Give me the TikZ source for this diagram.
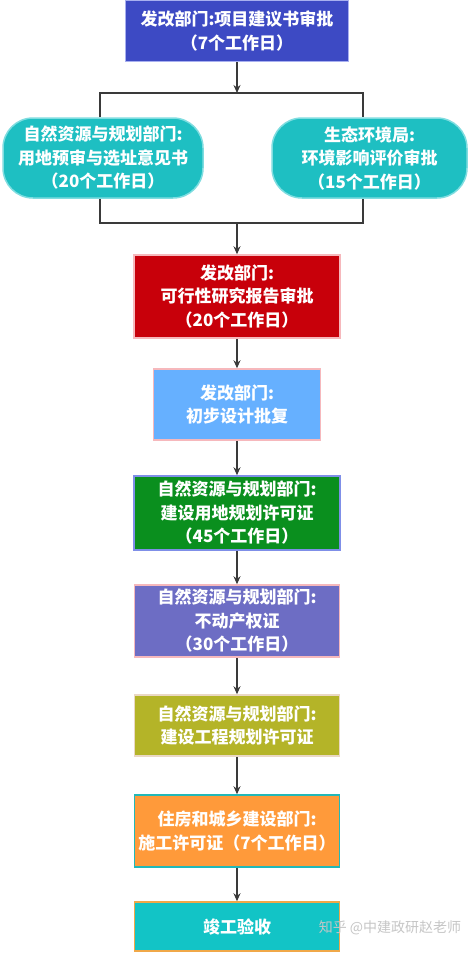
\documentclass[tikz,border=0pt]{standalone}
\usepackage{fontspec}
\usepackage{xcolor}
\usepackage{tikz}
\usetikzlibrary{arrows.meta}
\newfontfamily\cjk{Noto Sans CJK SC}
\definecolor{ndrcblue}{HTML}{3D4AC4}
\definecolor{ndrcedge}{HTML}{A8B0F0}
\definecolor{natteal}{HTML}{1EBFC2}
\definecolor{natedge}{HTML}{7FDDE0}
\definecolor{studyred}{HTML}{C8000A}
\definecolor{pinkedge}{HTML}{F6B8BC}
\definecolor{designblue}{HTML}{66B0FF}
\definecolor{landgreen}{HTML}{0A8F1E}
\definecolor{greenedge}{HTML}{7F8FE8}
\definecolor{deedpurple}{HTML}{6D6DC4}
\definecolor{worksolive}{HTML}{B4B428}
\definecolor{oliveedge}{HTML}{EAD8C4}
\definecolor{permitorange}{HTML}{FF9A3A}
\definecolor{orangeedge}{HTML}{22B8B8}
\definecolor{doneteal}{HTML}{12C4C6}
\definecolor{doneedge}{HTML}{F0A848}
\definecolor{linkgray}{HTML}{3A3A3A}
\tikzstyle{box}=[rectangle, draw, line width=1.5pt, text=white, align=center,
  font={\cjk\bfseries\fontsize{17}{23.5}\selectfont}]
\tikzstyle{link}=[draw=linkgray, line width=1.3pt]
\tikzstyle{arr}=[link, -{Stealth[length=8pt,width=7pt]}]

\begin{document}
\begin{tikzpicture}[x=1pt,y=-1pt]
\useasboundingbox[fill=white] (0,0) rectangle (474,953);
\node[box, fill=ndrcblue, draw=ndrcedge, minimum width=223pt, minimum height=61pt] (prop) at (237,31)
  {发改部门:项目建议书审批\\（7个工作日）};
\node[box, fill=natteal, draw=natedge, rounded corners=30pt, minimum width=200pt, minimum height=80pt] (site) at (103,158)
  {自然资源与规划部门:\\用地预审与选址意见书\\（20个工作日）};
\node[box, fill=natteal, draw=natedge, rounded corners=30pt, minimum width=195pt, minimum height=80pt] (env) at (369.5,158)
  {生态环境局:\\环境影响评价审批\\（15个工作日）};
\node[box, fill=studyred, draw=pinkedge, minimum width=206pt, minimum height=83pt] (study) at (237,296.5)
  {发改部门:\\可行性研究报告审批\\（20个工作日）};
\node[box, fill=designblue, draw=pinkedge, minimum width=167pt, minimum height=71pt] (design) at (237,404.5)
  {发改部门:\\初步设计批复};
\node[box, fill=landgreen, draw=greenedge, minimum width=206pt, minimum height=74pt] (land) at (237,513)
  {自然资源与规划部门:\\建设用地规划许可证\\（45个工作日）};
\node[box, fill=deedpurple, draw=pinkedge, minimum width=205pt, minimum height=72pt] (deed) at (237,621)
  {自然资源与规划部门:\\不动产权证\\（30个工作日）};
\node[box, fill=worksolive, draw=oliveedge, minimum width=205pt, minimum height=61pt] (works) at (237,725.5)
  {自然资源与规划部门:\\建设工程规划许可证};
\node[box, fill=permitorange, draw=orangeedge, minimum width=205pt, minimum height=72pt] (build) at (237,831)
  {住房和城乡建设部门:\\施工许可证（7个工作日）};
\node[box, fill=doneteal, draw=doneedge, minimum width=205pt, minimum height=49pt] (done) at (237,926.5)
  {竣工验收};
\node[text=gray!45, font={\cjk\fontsize{14}{16}\selectfont}] (mark) at (390,928) {知乎 @中建政研赵老师};
% fork and join
\coordinate (fork) at (237,93);
\coordinate (join) at (237,223);
\draw[arr] (prop) -- (fork);
\draw[link] ([xshift=-3pt]site.north) |- (fork) -| ([xshift=-6.5pt]env.north);
\draw[link] ([xshift=-3pt]site.south) |- (join) -| ([xshift=-6.5pt]env.south);
\draw[arr] (join) -- (study);
\foreach \a/\b in {study/design, design/land, land/deed, deed/works, works/build, build/done}
  \draw[arr] (\a) -- (\b);
\end{tikzpicture}
\end{document}
